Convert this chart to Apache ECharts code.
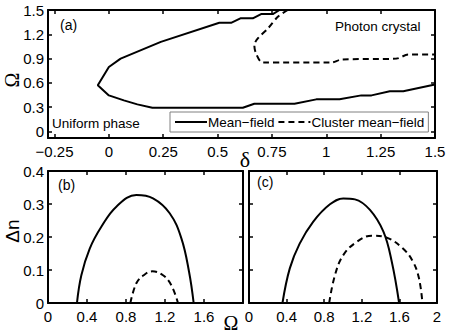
<!DOCTYPE html>
<html>
<head>
<meta charset="utf-8">
<script src="https://cdn.jsdelivr.net/npm/echarts@6/dist/echarts.min.js"></script>
<style>html,body{margin:0;padding:0;background:#fff}#c{width:474px;height:334px}</style>
</head>
<body>
<div id="c"></div>
<script>
// Panel (a): phase boundary, delta vs Omega
const mfA_delta = [0.785, 0.754, 0.70, 0.662, 0.605, 0.562, 0.508, 0.239, 0.054, 0.0, -0.051, 0.0, 0.069, 0.131, 0.2, 0.616, 0.669, 0.746, 0.854, 0.954, 1.061, 1.161, 1.208, 1.292, 1.354, 1.5];
const mfA_omega = [1.50, 1.45, 1.45, 1.397, 1.397, 1.342, 1.342, 1.107, 0.90, 0.797, 0.57, 0.446, 0.384, 0.335, 0.294, 0.294, 0.343, 0.343, 0.343, 0.397, 0.397, 0.446, 0.446, 0.496, 0.496, 0.58];
const cmfA_delta = [0.823, 0.777, 0.731, 0.685, 0.669, 0.677, 0.708, 1.023, 1.069, 1.323, 1.377, 1.5];
const cmfA_omega = [1.5, 1.416, 1.27, 1.149, 1.066, 0.963, 0.851, 0.851, 0.888, 0.90, 0.95, 0.95];
// Panel (b): Delta n vs Omega
const mfB_omega = [0.297, 0.342, 0.428, 0.547, 0.701, 0.906, 1.077, 1.248, 1.368, 1.447, 1.494];
const mfB_dn = [0, 0.084, 0.165, 0.231, 0.292, 0.327, 0.317, 0.272, 0.196, 0.094, 0];
const cmfB_omega = [0.845, 0.906, 0.981, 1.07, 1.18, 1.265, 1.333];
const cmfB_dn = [0, 0.06, 0.084, 0.096, 0.084, 0.054, 0];
// Panel (c)
const mfC_omega = [0.356, 0.434, 0.539, 0.682, 0.861, 1.003, 1.127, 1.287, 1.43, 1.519, 1.597];
const mfC_dn = [0, 0.105, 0.18, 0.246, 0.299, 0.317, 0.314, 0.282, 0.216, 0.125, 0];
const cmfC_omega = [0.853, 0.914, 1.003, 1.145, 1.305, 1.465, 1.638, 1.745, 1.809, 1.845];
const cmfC_dn = [0, 0.084, 0.145, 0.185, 0.204, 0.198, 0.165, 0.125, 0.074, 0];
// Tick labels
const ticksA_x = [-0.25, 0, 0.25, 0.5, 0.75, 1, 1.25, 1.5];
const ticksA_y = [0, 0.3, 0.6, 0.9, 1.2, 1.5];
const ticksB_x = [0, 0.4, 0.8, 1.2, 1.6, 2];
const labelsB_x = [0, 0.4, 0.8, 1.2, 1.6];
const ticksBC_y = [0, 0.1, 0.2, 0.3, 0.4];
const ticksC_x = [0, 0.4, 0.8, 1.2, 1.6, 2];
const seriesNames = ['Mean\u2212field', 'Cluster mean\u2212field'];

const zip = (a, b) => a.map((v, i) => [v, b[i]]);
const FONT = 'Liberation Sans';
const fmt = v => String(v).replace('-', '\u2212');

function axis(gridIndex, position, min, max, ticks, labels, margin) {
  return {
    type: 'value', gridIndex, position, min, max,
    axisLine: {show: true, onZero: false, lineStyle: {color: '#000', width: 2}},
    axisTick: {show: true, inside: true, length: 4, customValues: ticks, lineStyle: {color: '#000', width: 1.5}},
    axisLabel: labels ? {show: true, customValues: labels, formatter: fmt, color: '#000', fontSize: 15, fontFamily: FONT, margin: margin} : {show: false},
    splitLine: {show: false}
  };
}

const xAxis = [
  axis(0, 'bottom', -0.28, 1.5, ticksA_x, ticksA_x, 6),
  axis(0, 'top', -0.28, 1.5, ticksA_x, null),
  axis(1, 'bottom', 0, 2, ticksB_x, labelsB_x, 6),
  axis(1, 'top', 0, 2, ticksB_x, null),
  axis(2, 'bottom', 0, 2, ticksC_x, ticksC_x, 6),
  axis(2, 'top', 0, 2, ticksC_x, null)
];
const yAxis = [
  axis(0, 'left', -0.08, 1.5, ticksA_y, ticksA_y, 4),
  axis(0, 'right', -0.08, 1.5, ticksA_y, null),
  axis(1, 'left', 0, 0.4, ticksBC_y, ticksBC_y, 4),
  axis(1, 'right', 0, 0.4, ticksBC_y, null),
  axis(2, 'left', 0, 0.4, ticksBC_y, null),
  axis(2, 'right', 0, 0.4, ticksBC_y, null)
];

function line(name, xi, yi, data, dashed, smooth) {
  return {
    type: 'line', name, xAxisIndex: xi, yAxisIndex: yi, data,
    symbol: 'none', showSymbol: false, smooth: smooth, clip: true, silent: true,
    lineStyle: {color: '#000', width: 2, type: dashed ? [6, 4] : 'solid'},
    itemStyle: {color: '#000'}
  };
}

const series = [
  line(seriesNames[0], 0, 0, zip(mfA_delta, mfA_omega), false, false),
  line(seriesNames[1], 0, 0, zip(cmfA_delta, cmfA_omega), true, 0.3),
  line(seriesNames[0], 2, 2, zip(mfB_omega, mfB_dn), false, 0.4),
  line(seriesNames[1], 2, 2, zip(cmfB_omega, cmfB_dn), true, 0.4),
  line(seriesNames[0], 4, 4, zip(mfC_omega, mfC_dn), false, 0.4),
  line(seriesNames[1], 4, 4, zip(cmfC_omega, cmfC_dn), true, 0.4)
];

function txt(text, x, y, size, family, align, rot) {
  return {
    type: 'text', x: x, y: y, rotation: rot || 0, silent: true, z: 100,
    style: {text, fill: '#000', font: size + 'px "' + family + '"',
      align: align, verticalAlign: 'middle', textAlign: align, textVerticalAlign: 'middle'}
  };
}

const chart = echarts.init(document.getElementById('c'), null, {renderer: 'svg'});
chart.setOption({
  backgroundColor: '#fff',
  animation: false,
  grid: [
    {left: 48, top: 10, width: 387, height: 128},
    {left: 48, top: 171, width: 195, height: 132},
    {left: 249, top: 171, width: 188, height: 132}
  ],
  xAxis, yAxis, series,
  legend: {
    data: seriesNames, left: 170, top: 112, orient: 'horizontal',
    itemWidth: 32, itemHeight: 12, itemGap: 3, padding: [3, 4],
    borderColor: '#808080', borderWidth: 1, backgroundColor: '#fff', borderRadius: 0,
    selectedMode: false,
    itemStyle: {color: 'rgba(0,0,0,0)', borderColor: 'rgba(0,0,0,0)', borderWidth: 0, opacity: 0},
    lineStyle: {width: 2},
    textStyle: {fontSize: 13.5, fontFamily: FONT, color: '#000', padding: [0, 0, 0, -4]}
  },
  graphic: [
    txt('(a)', 60, 25, 14, FONT, 'left'),
    txt('(b)', 58, 185, 14, FONT, 'left'),
    txt('(c)', 257, 182, 14, FONT, 'left'),
    txt('Photon crystal', 335, 26, 13.5, FONT, 'left'),
    txt('Uniform phase', 52, 123, 13.5, FONT, 'left'),
    txt('\u03b4', 245, 159, 22, 'Liberation Serif', 'center'),
    txt('\u03a9', 12, 80, 20, 'Liberation Serif', 'center', Math.PI / 2),
    txt('\u0394n', 12, 231, 19, FONT, 'center', Math.PI / 2),
    txt('\u03a9', 231, 323, 20, 'Liberation Serif', 'center')
  ]
});
</script>
</body>
</html>
